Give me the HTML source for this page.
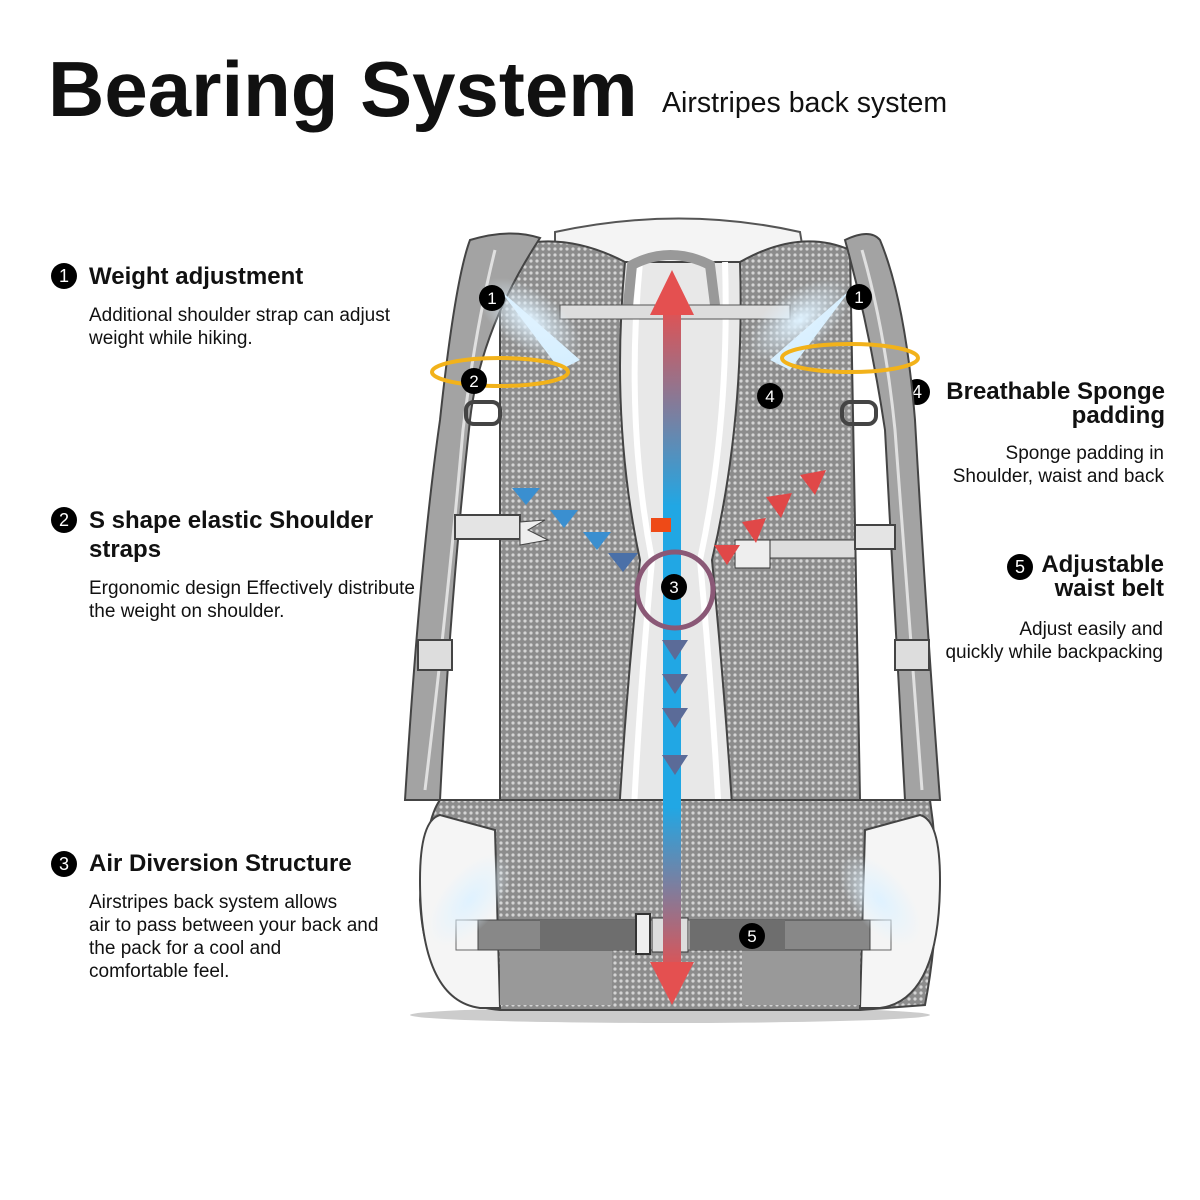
<!DOCTYPE html>
<html><head><meta charset="utf-8">
<style>
body{margin:0;background:#fff;}
.wrap{position:relative;width:1200px;height:1200px;overflow:hidden;font-family:"Liberation Sans",Arial,sans-serif;color:#111;}
.t{position:absolute;white-space:nowrap;}
h1{position:absolute;left:48px;top:44px;margin:0;font-size:78px;font-weight:bold;}
.sub{left:662px;top:87px;font-size:28.5px;}
.num{position:absolute;width:26px;height:26px;border-radius:50%;background:#000;color:#fff;font-size:18px;line-height:26px;text-align:center;}
.hd{font-size:24px;font-weight:bold;}
.bd{font-size:19px;line-height:23px;}
</style></head><body><div class="wrap">
<h1>Bearing System</h1>
<div class="t sub">Airstripes back system</div>

<div class="num" style="left:51px;top:263px">1</div>
<div class="t hd" style="left:89px;top:263px">Weight adjustment</div>
<div class="t bd" style="left:89px;top:304px">Additional shoulder strap can adjust<br>weight while hiking.</div>

<div class="num" style="left:51px;top:507px">2</div>
<div class="t hd" style="left:89px;top:506px;line-height:29px">S shape elastic Shoulder<br>straps</div>
<div class="t bd" style="left:89px;top:577px">Ergonomic design Effectively distribute<br>the weight on shoulder.</div>

<div class="num" style="left:51px;top:851px">3</div>
<div class="t hd" style="left:89px;top:850px">Air Diversion Structure</div>
<div class="t bd" style="left:89px;top:891px">Airstripes back system allows<br>air to pass between your back and<br>the pack for a cool and<br>comfortable feel.</div>

<div class="num" style="left:904px;top:379px">4</div>
<div class="t hd" style="right:35px;top:380px;text-align:right;line-height:24px">Breathable Sponge<br>padding</div>
<div class="t bd" style="right:36px;top:442px;text-align:right">Sponge padding in<br>Shoulder, waist and back</div>

<div class="num" style="left:1007px;top:554px">5</div>
<div class="t hd" style="right:36px;top:553px;text-align:right;line-height:24px">Adjustable<br>waist belt</div>
<div class="t bd" style="right:37px;top:618px;text-align:right">Adjust easily and<br>quickly while backpacking</div>

<svg style="position:absolute;left:0;top:0" width="1200" height="1200" viewBox="0 0 1200 1200">
<defs>
<pattern id="mesh" width="6" height="6" patternUnits="userSpaceOnUse">
<rect width="6" height="6" fill="#8c8c8c"/><circle cx="3" cy="3" r="1.6" fill="#d4d4d4"/>
</pattern>
<linearGradient id="ch" x1="0" y1="0" x2="0" y2="1">
<stop offset="0" stop-color="#e45050"/><stop offset="0.3" stop-color="#21a7e4"/><stop offset="0.75" stop-color="#21a7e4"/><stop offset="1" stop-color="#e45050"/>
</linearGradient>
<radialGradient id="glow"><stop offset="0" stop-color="#dff2ff"/><stop offset="1" stop-color="#dff2ff" stop-opacity="0"/></radialGradient>
</defs>
<ellipse cx="670" cy="1015" rx="260" ry="8" fill="#ccc"/>
<path d="M555 232 Q680 205 800 232 L805 262 L555 262 Z" fill="#f4f4f4" stroke="#555" stroke-width="2"/>
<path d="M500 250 Q560 228 625 262 L740 262 Q800 228 850 250 L860 800 L500 800 Z" fill="url(#mesh)" stroke="#444" stroke-width="2"/>
<path d="M625 262 Q610 420 640 560 Q615 800 612 1000 L742 1000 Q735 800 712 560 Q745 420 740 262 Z" fill="#e8e8e8" stroke="#444" stroke-width="2"/>
<path d="M640 262 Q625 420 652 560 Q630 800 628 1000" fill="none" stroke="#fff" stroke-width="6"/>
<path d="M725 262 Q730 420 700 560 Q722 800 726 1000" fill="none" stroke="#fff" stroke-width="6"/>
<path d="M628 305 L632 265 Q670 245 710 265 L715 305" fill="none" stroke="#999" stroke-width="10"/>
<rect x="560" y="305" width="230" height="14" fill="#ddd" stroke="#555"/>
<path d="M440 800 L930 800 Q945 900 925 1005 L860 1010 L500 1010 Q425 1005 420 900 Q425 820 440 800Z" fill="url(#mesh)" stroke="#444" stroke-width="2"/>
<path d="M440 815 Q420 820 420 880 Q420 1000 480 1008 L500 1008 L495 830 Z" fill="#f5f5f5" stroke="#444" stroke-width="2"/>
<path d="M920 815 Q940 820 940 880 Q940 1000 880 1008 L860 1008 L865 830 Z" fill="#f5f5f5" stroke="#444" stroke-width="2"/>
<rect x="500" y="950" width="112" height="55" fill="#999"/>
<rect x="742" y="950" width="118" height="55" fill="#999"/>
<rect x="456" y="920" width="435" height="30" fill="#f4f4f4" stroke="#666"/>
<rect x="478" y="920" width="160" height="30" fill="#888" stroke="#444"/>
<rect x="540" y="920" width="98" height="30" fill="#6e6e6e"/>
<rect x="690" y="920" width="180" height="30" fill="#888" stroke="#444"/>
<rect x="690" y="920" width="95" height="30" fill="#6e6e6e"/>
<rect x="636" y="914" width="14" height="40" fill="#eee" stroke="#333" stroke-width="2"/>
<rect x="652" y="918" width="36" height="34" fill="#ddd" stroke="#333"/>
<path d="M470 240 Q510 228 540 238 Q480 330 470 420 Q450 600 440 800 L405 800 Q420 560 440 420 Q455 280 470 240Z" fill="#a3a3a3" stroke="#444" stroke-width="2"/>
<path d="M495 250 Q475 330 463 430 Q448 600 425 790" fill="none" stroke="#e0e0e0" stroke-width="3"/>
<path d="M845 240 Q870 228 880 240 Q905 300 915 420 Q925 600 940 800 L905 800 Q895 600 885 430 Q870 330 845 240Z" fill="#a3a3a3" stroke="#444" stroke-width="2"/>
<path d="M862 250 Q885 330 895 430 Q908 600 922 790" fill="none" stroke="#e0e0e0" stroke-width="3"/>
<rect x="466" y="402" width="34" height="22" rx="8" fill="none" stroke="#444" stroke-width="4"/>
<rect x="842" y="402" width="34" height="22" rx="8" fill="none" stroke="#444" stroke-width="4"/>
<rect x="418" y="640" width="34" height="30" fill="#ddd" stroke="#444" stroke-width="2"/>
<rect x="895" y="640" width="34" height="30" fill="#ddd" stroke="#444" stroke-width="2"/>
<rect x="455" y="515" width="65" height="24" fill="#e4e4e4" stroke="#444" stroke-width="2"/>
<path d="M520 522 L545 520 L528 530 L548 540 L520 545Z" fill="#eee" stroke="#444"/>
<rect x="740" y="540" width="115" height="18" fill="#ddd" stroke="#444"/>
<rect x="735" y="540" width="35" height="28" fill="#eee" stroke="#333"/>
<rect x="855" y="525" width="40" height="24" fill="#e4e4e4" stroke="#444" stroke-width="2"/>
<path d="M500 290 L580 360 L560 370 Z" fill="#d6efff"/>
<path d="M850 290 L770 360 L790 370 Z" fill="#d6efff"/>
<ellipse cx="530" cy="320" rx="60" ry="30" fill="url(#glow)" transform="rotate(35 530 320)"/>
<ellipse cx="800" cy="320" rx="60" ry="30" fill="url(#glow)" transform="rotate(-35 800 320)"/>
<ellipse cx="470" cy="900" rx="55" ry="28" fill="url(#glow)" transform="rotate(-50 470 900)"/>
<ellipse cx="880" cy="900" rx="55" ry="28" fill="url(#glow)" transform="rotate(50 880 900)"/>
<ellipse cx="500" cy="372" rx="68" ry="14" fill="none" stroke="#f2b21a" stroke-width="4"/>
<ellipse cx="850" cy="358" rx="68" ry="14" fill="none" stroke="#f2b21a" stroke-width="4"/>
<rect x="663" y="305" width="18" height="670" fill="url(#ch)"/>
<polygon points="672,270 650,315 694,315" fill="#e45050"/>
<polygon points="672,1005 650,962 694,962" fill="#e45050"/>
<g fill="#3a8fd0"><polygon points="512,488 540,488 526,505"/><polygon points="550,510 578,510 564,528"/><polygon points="583,532 611,532 597,550"/></g>
<g fill="#4a70a8"><polygon points="608,553 638,553 623,572"/></g>
<g fill="#e04848"><polygon points="800,475 826,470 815,495"/><polygon points="766,497 792,493 781,518"/><polygon points="742,522 766,518 756,543"/><polygon points="714,545 740,545 727,565"/></g>
<g fill="#5b6b98"><polygon points="662,640 688,640 675,660"/><polygon points="662,674 688,674 675,694"/><polygon points="662,708 688,708 675,728"/><polygon points="662,755 688,755 675,775"/></g>
<rect x="651" y="518" width="20" height="14" fill="#ee4a17"/>
<circle cx="675" cy="590" r="38" fill="none" stroke="#8a5876" stroke-width="5"/>
<g font-family="Liberation Sans,Arial,sans-serif" font-size="17" fill="#fff" text-anchor="middle">
<circle cx="492" cy="298" r="13" fill="#000"/><text x="492" y="304">1</text>
<circle cx="859" cy="297" r="13" fill="#000"/><text x="859" y="303">1</text>
<circle cx="474" cy="381" r="13" fill="#000"/><text x="474" y="387">2</text>
<circle cx="770" cy="396" r="13" fill="#000"/><text x="770" y="402">4</text>
<circle cx="674" cy="587" r="13" fill="#000"/><text x="674" y="593">3</text>
<circle cx="752" cy="936" r="13" fill="#000"/><text x="752" y="942">5</text>
</g>
</svg>
</div></body></html>
